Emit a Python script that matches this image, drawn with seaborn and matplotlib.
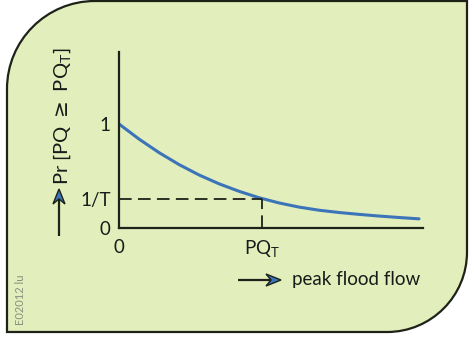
import numpy as np
import pandas as pd
import matplotlib.pyplot as plt
import seaborn as sns
from matplotlib.path import Path
from matplotlib.patches import PathPatch, Polygon

# curve (x in arbitrary flow units, y probability)
flow = [0.0, 0.2, 0.4, 0.6, 0.8, 1.0, 1.2, 1.4, 1.6, 1.8, 2.0, 2.2, 2.4, 2.6, 2.8, 3.0]
prob = [1.0, 0.855, 0.725, 0.61, 0.51, 0.425, 0.353, 0.291, 0.241, 0.201,
        0.171, 0.149, 0.131, 0.115, 0.101, 0.088]
pq_t = 1.43
inv_t = 0.28
y_ticks = [0, inv_t, 1]
y_tick_labels = ["0", "1/T", "1"]
x_ticks = [0, pq_t]
x_tick_labels = ["0", r"PQ$_{\mathregular{T}}$"]

PANEL = "#e2eebb"
EDGE = "#1e2218"
BLUE = "#3b74b9"

sns.set_style("white")
plt.rcParams['font.family'] = ['Lato', 'DejaVu Sans']

W, H = 474, 351
fig = plt.figure(figsize=(W / 100, H / 100), dpi=100)
fig.patch.set_facecolor("white")

# background panel drawn in pixel coordinates
bg = fig.add_axes([0, 0, 1, 1])
bg.set_xlim(0, W)
bg.set_ylim(H, 0)
bg.axis("off")

L, T, R, B = 7, 1, 467, 332
r1, r2 = 88, 80
k = 0.5523
verts = [
    (L + r1, T), (R, T), (R, B - r2),
    (R, B - r2 + k * r2), (R - r2 + k * r2, B), (R - r2, B),
    (L, B), (L, T + r1),
    (L, T + r1 - k * r1), (L + r1 - k * r1, T), (L + r1, T),
]
codes = [Path.MOVETO, Path.LINETO, Path.LINETO,
         Path.CURVE4, Path.CURVE4, Path.CURVE4,
         Path.LINETO, Path.LINETO,
         Path.CURVE4, Path.CURVE4, Path.CURVE4]
bg.add_patch(PathPatch(Path(verts, codes), facecolor=PANEL, edgecolor=EDGE, lw=1.6))


def arrow(x0, y0, x1, y1):
    d = np.array([x1 - x0, y1 - y0], float)
    d /= np.hypot(*d)
    n = np.array([-d[1], d[0]])
    tip = np.array([x1, y1])
    back = tip - d * 15
    notch = tip - d * 10
    bg.plot([x0, notch[0]], [y0, notch[1]], color=EDGE, lw=1.6, solid_capstyle="butt")
    head = [tip, back + n * 6, notch, back - n * 6]
    bg.add_patch(Polygon(head, closed=True, facecolor=BLUE, edgecolor=EDGE, lw=1.0))


arrow(59, 236, 59, 189)
arrow(238, 280, 281, 280)

bg.text(292, 279, "peak flood flow", fontsize=13.5, color="#1a1a1a", va="center", ha="left")
bg.text(62, 116, r"Pr [PQ $\geq$ PQ$_{\mathregular{T}}$]", fontsize=14.5, color="#1a1a1a",
        rotation=90, va="center", ha="center")
bg.text(21, 300, "E02012 lu", fontsize=8, color="#8a8f80", rotation=90,
        va="center", ha="center")

# data axes
ax = fig.add_axes([119 / W, (H - 228) / H, (423 - 119) / W, (228 - 52) / H])
ax.set_facecolor("none")
df = pd.DataFrame({"flow": flow, "prob": prob})
sns.lineplot(data=df, x="flow", y="prob", ax=ax, color=BLUE, lw=2.2)
ax.plot([0, pq_t], [inv_t, inv_t], color=EDGE, lw=1.3, dashes=(7, 3.5))
ax.plot([pq_t, pq_t], [0, inv_t], color=EDGE, lw=1.3, dashes=(7, 3.5))

ax.set_xlim(0, 3.04)
ax.set_ylim(0, 1.692)
for s in ["top", "right"]:
    ax.spines[s].set_visible(False)
for s in ["left", "bottom"]:
    ax.spines[s].set_color(EDGE)
    ax.spines[s].set_linewidth(1.6)
ax.set_yticks(y_ticks, y_tick_labels)
ax.set_xticks(x_ticks, x_tick_labels)
ax.tick_params(length=0, labelsize=13.5, colors="#1a1a1a")
ax.tick_params(axis="y", pad=6)
ax.tick_params(axis="x", pad=8)
ax.set_xlabel("")
ax.set_ylabel("")

fig.savefig("out.png", dpi=100)
